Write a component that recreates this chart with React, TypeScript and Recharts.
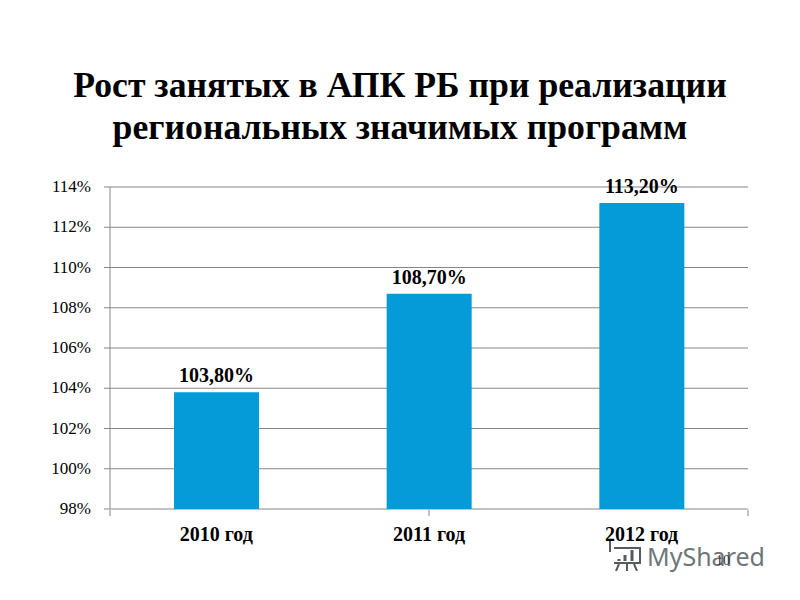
import { BarChart, Bar, XAxis, YAxis, CartesianGrid, LabelList } from 'recharts';

const years = ['2010 год', '2011 год', '2012 год'];
const growth = [103.8, 108.7, 113.2];
const growthLabels = ['103,80%', '108,70%', '113,20%'];
const ticks = [98, 100, 102, 104, 106, 108, 110, 112, 114];
const categoryEdges = [0, 1, 2, 3];

const data = years.map((year, i) => ({ year, growth: growth[i], label: growthLabels[i] }));
const font = '"Liberation Serif", serif';
const axisColor = '#868686';

function Logo() {
  return (
    <svg style={{ position: 'absolute', left: 607, top: 540 }} width={34} height={31} fill="none" stroke="#555c5e" strokeWidth={2}>
      <path d="M7 8H33V23H7M3 1V12" />
      <path d="M12 21V19M18 21V15M25 21V10" strokeWidth={3} />
      <path d="M12 24L9 31M20 24V31M27 24L30 31" />
    </svg>
  );
}

export default function App() {
  return (
    <div style={{ position: 'absolute', left: 0, top: 0, width: 800, height: 600, background: '#fff', fontFamily: font }}>
      <div style={{ position: 'absolute', left: 0, top: 64, width: 800, textAlign: 'center', fontSize: 35.7, fontWeight: 700, lineHeight: '42px', color: '#000' }}>
        Рост занятых в АПК РБ при реализации<br />региональных значимых программ
      </div>
      <BarChart
        style={{ position: 'absolute', left: 0, top: 0 }}
        width={800}
        height={600}
        data={data}
        barSize={85}
        margin={{ top: 187, right: 52, bottom: 89, left: 0 }}
      >
        <CartesianGrid vertical={false} stroke={axisColor} strokeWidth={1} />
        {/* tick marks sit between the categories, so they get their own numeric axis */}
        <XAxis
          xAxisId="edges"
          type="number"
          domain={[0, 3]}
          ticks={categoryEdges}
          height={1}
          axisLine={false}
          tick={() => <g />}
          tickLine={{ stroke: axisColor }}
          tickSize={6}
        />
        <XAxis
          dataKey="year"
          height={1}
          axisLine={false}
          tickLine={false}
          tick={{ fill: '#000', fontSize: 20, fontWeight: 700, fontFamily: font }}
          tickMargin={12}
        />
        <YAxis
          width={110}
          domain={[98, 114]}
          ticks={ticks}
          interval={0}
          stroke={axisColor}
          tickLine={{ stroke: axisColor }}
          tickSize={6}
          tickMargin={13}
          tickFormatter={(v: number) => `${v}%`}
          tick={{ fill: '#000', fontSize: 17, fontFamily: font, dy: -1 }}
        />
        <Bar dataKey="growth" fill="#059bd8" isAnimationActive={false}>
          <LabelList dataKey="label" position="top" offset={10} fill="#000" fontSize={20} fontWeight={700} fontFamily={font} />
        </Bar>
      </BarChart>
      <Logo />
      <div style={{ position: 'absolute', left: 647, top: 540, fontSize: 25, lineHeight: '32px', fontFamily: '"Noto Sans", sans-serif', color: '#6f7678' }}>MyShared</div>
      <div style={{ position: 'absolute', left: 716, top: 553, fontSize: 14, fontFamily: font, color: '#333' }}>10</div>
    </div>
  );
}
